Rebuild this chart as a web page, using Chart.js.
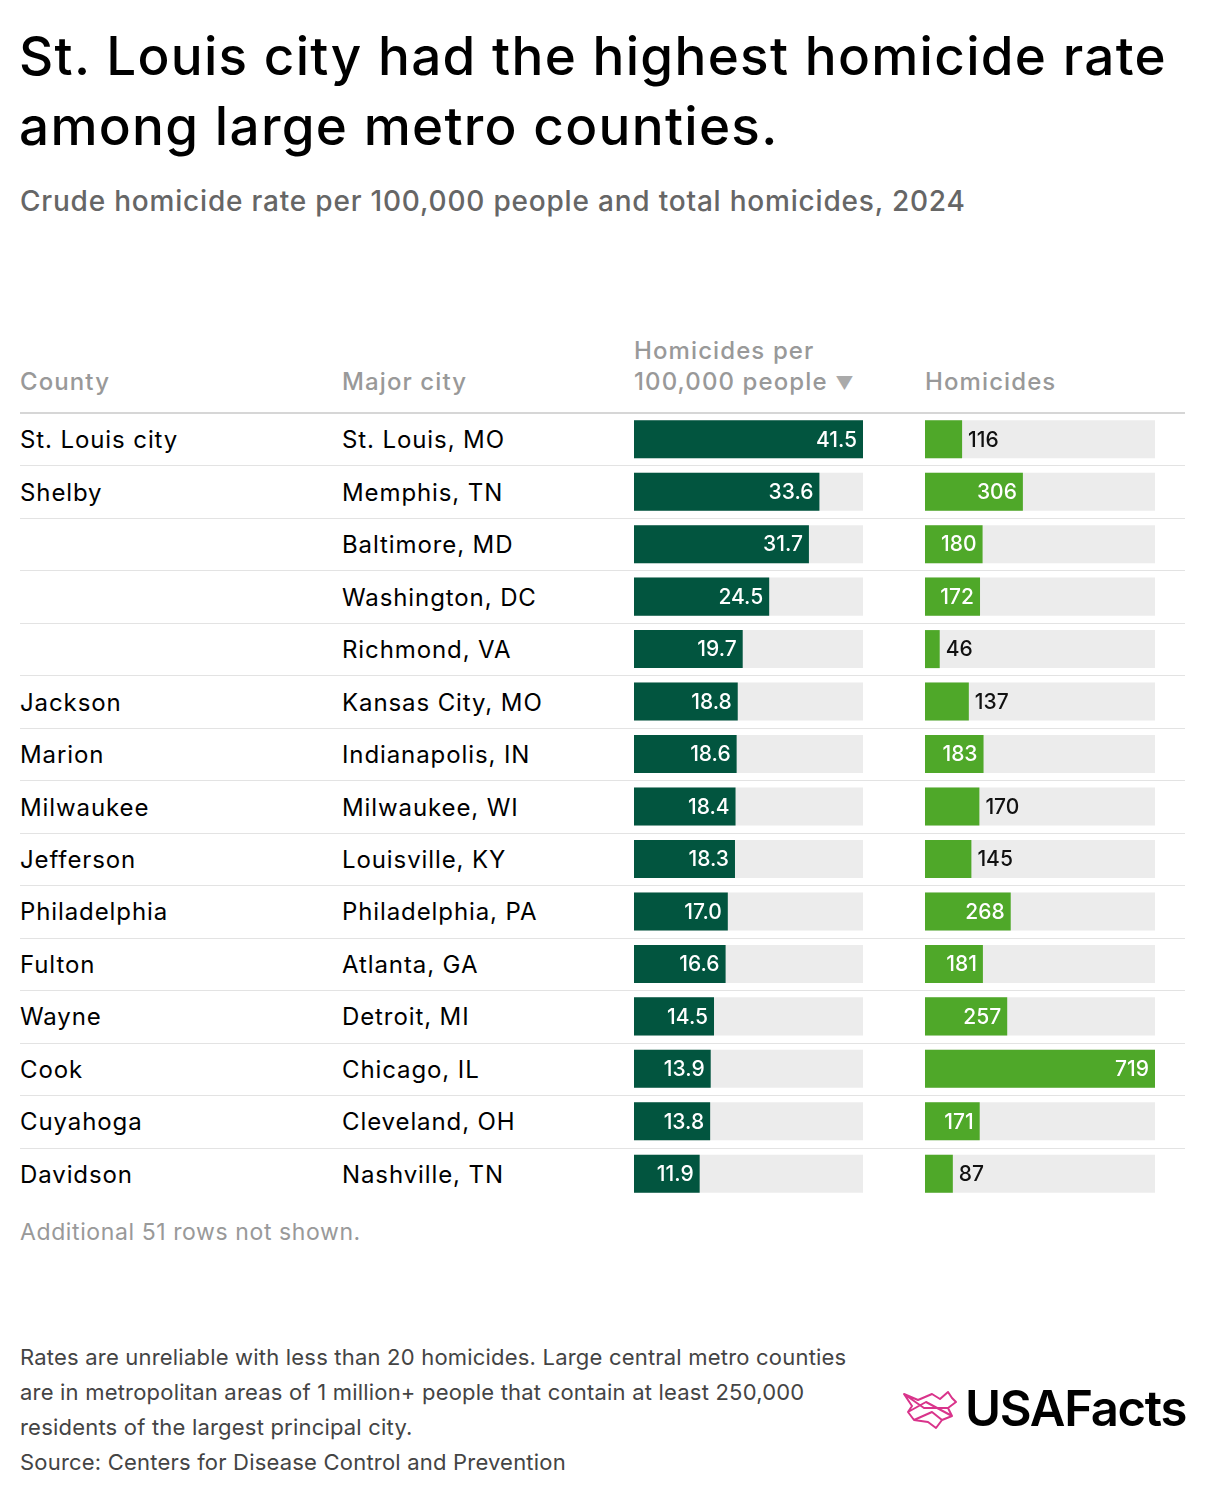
<!DOCTYPE html>
<html>
<head>
<meta charset="utf-8">
<script src="https://cdn.jsdelivr.net/npm/chart.js@4.4.0/dist/chart.umd.min.js"></script>
<style>
  body { margin: 0; background: #fff; font-family: Inter, "Noto Sans", sans-serif; }
  #page { position: relative; width: 1205px; height: 1500px; overflow: hidden; }
  .abs { position: absolute; white-space: nowrap; }
  #title { left: 19px; top: 21px; font-size: 53px; font-weight: 500; line-height: 70px; color: #000; letter-spacing: 1.3px; }
  #subtitle { left: 20px; top: 184px; font-size: 28px; font-weight: 500; color: #666; letter-spacing: 0.8px; }
  .head { font-size: 24px; font-weight: 500; color: #999; line-height: 31px; letter-spacing: 1.1px; }
  .cell { font-size: 24px; font-weight: 400; color: #000; letter-spacing: 0.9px; }
  .rowline { position: absolute; left: 20px; width: 1165px; height: 1px; background: #e3e3e3; }
  #notshown { left: 20px; top: 1218px; font-size: 23px; color: #999; letter-spacing: 0.6px; }
  #notes { left: 20px; top: 1340px; font-size: 22px; line-height: 35px; color: #444; letter-spacing: 0.2px; }
  #logo { left: 965px; top: 1379px; font-size: 49px; font-weight: 600; color: #000; letter-spacing: -1.3px; }
  canvas { position: absolute; }
</style>
</head>
<body>
<div id="page">
  <div id="title" class="abs">St. Louis city had the highest homicide rate<br>among large metro counties.</div>
  <div id="subtitle" class="abs">Crude homicide rate per 100,000 people and total homicides, 2024</div>

  <div class="abs head" style="left:20px; top:366px;">County</div>
  <div class="abs head" style="left:342px; top:366px;">Major city</div>
  <div class="abs head" style="left:634px; top:335px;">Homicides per<br>100,000 people <span style="font-size:18px; color:#aaa;">&#9660;</span></div>
  <div class="abs head" style="left:925px; top:366px;">Homicides</div>
  <div class="rowline" style="top:412px; height:2px; background:#d6d6d6;"></div>

  <div id="rows"></div>

  <canvas id="rateChart" style="left:634px; top:413px;" width="229" height="787"></canvas>
  <canvas id="homChart" style="left:925px; top:413px;" width="230" height="787"></canvas>

  <div id="notshown" class="abs">Additional 51 rows not shown.</div>
  <div id="notes" class="abs">Rates are unreliable with less than 20 homicides. Large central metro counties<br>are in metropolitan areas of 1 million+ people that contain at least 250,000<br>residents of the largest principal city.<br>Source: Centers for Disease Control and Prevention</div>

  <svg class="abs" style="left:902px; top:1390px;" width="56" height="40" viewBox="0 0 56 40">
    <path d="M2 4 L16 10 L30 4 L38 9 L46 2 L50 8 L54 12 L46 18 L50 26 L40 30 L34 38 L26 32 L12 30 L6 22 L10 16 Z M2 4 L22 18 L46 18 M6 22 L24 12 L50 26 M12 30 L30 22 L40 30" fill="none" stroke="#d9348b" stroke-width="2" stroke-linejoin="round"/>
  </svg>
  <div id="logo" class="abs">USAFacts</div>
</div>

<script>
const counties = ['St. Louis city', 'Shelby', '', '', '', 'Jackson', 'Marion', 'Milwaukee', 'Jefferson',
    'Philadelphia', 'Fulton', 'Wayne', 'Cook', 'Cuyahoga', 'Davidson'];
const cities = ['St. Louis, MO', 'Memphis, TN', 'Baltimore, MD', 'Washington, DC', 'Richmond, VA',
    'Kansas City, MO', 'Indianapolis, IN', 'Milwaukee, WI', 'Louisville, KY', 'Philadelphia, PA',
    'Atlanta, GA', 'Detroit, MI', 'Chicago, IL', 'Cleveland, OH', 'Nashville, TN'];
const rates = [41.5, 33.6, 31.7, 24.5, 19.7, 18.8, 18.6, 18.4, 18.3, 17.0, 16.6, 14.5, 13.9, 13.8, 11.9];
const homicides = [116, 306, 180, 172, 46, 137, 183, 170, 145, 268, 181, 257, 719, 171, 87];

const ROW_TOP = 413;
const ROW_H = 787 / cities.length;

// text columns and row separators
const rowsDiv = document.getElementById('rows');
for (let i = 0; i < cities.length; i++) {
    const y = ROW_TOP + i * ROW_H;
    const c1 = document.createElement('div');
    c1.className = 'abs cell';
    c1.style.left = '20px';
    c1.style.top = (y + ROW_H / 2 - 14) + 'px';
    c1.textContent = counties[i];
    rowsDiv.appendChild(c1);

    const c2 = document.createElement('div');
    c2.className = 'abs cell';
    c2.style.left = '342px';
    c2.style.top = (y + ROW_H / 2 - 14) + 'px';
    c2.textContent = cities[i];
    rowsDiv.appendChild(c2);

    if (i > 0) {
        const line = document.createElement('div');
        line.className = 'rowline';
        line.style.top = Math.round(y) + 'px';
        rowsDiv.appendChild(line);
    }
}

// value labels: inside in white when they fit, outside in black otherwise
const barLabels = {
    id: 'barLabels',
    afterDatasetsDraw(chart, args, opts) {
        const ctx = chart.ctx;
        const meta = chart.getDatasetMeta(1);
        const values = chart.data.datasets[1].data;
        ctx.save();
        ctx.font = '500 21px Inter';
        ctx.textBaseline = 'middle';
        meta.data.forEach(function (bar, i) {
            const text = opts.format(values[i]);
            const w = ctx.measureText(text).width;
            const barW = bar.x - bar.base;
            if (w + 20.8 <= barW) {
                ctx.fillStyle = '#fff';
                ctx.textAlign = 'right';
                ctx.fillText(text, bar.x - 6, bar.y + 1);
            } else {
                ctx.fillStyle = '#111';
                ctx.textAlign = 'left';
                ctx.fillText(text, bar.x + 6, bar.y + 1);
            }
        });
        ctx.restore();
    }
};

function makeBarChart(canvas, values, color, format) {
    const max = Math.max(...values);
    return new Chart(canvas.getContext('2d'), {
        type: 'bar',
        data: {
            labels: cities,
            datasets: [{
                data: values.map(() => max),
                backgroundColor: '#ececec',
                order: 2
            }, {
                data: values,
                backgroundColor: color,
                order: 1
            }]
        },
        options: {
            indexAxis: 'y',
            responsive: false,
            animation: false,
            grouped: false,
            barPercentage: 1,
            categoryPercentage: 0.725,
            layout: { padding: 0 },
            scales: {
                x: { display: false, min: 0, max: max },
                y: { display: false }
            },
            plugins: {
                legend: { display: false },
                tooltip: { enabled: false },
                barLabels: { format: format }
            }
        },
        plugins: [barLabels]
    });
}

makeBarChart(document.getElementById('rateChart'), rates, '#02553f', v => v.toFixed(1));
makeBarChart(document.getElementById('homChart'), homicides, '#4fa829', v => String(v));
</script>
</body>
</html>
